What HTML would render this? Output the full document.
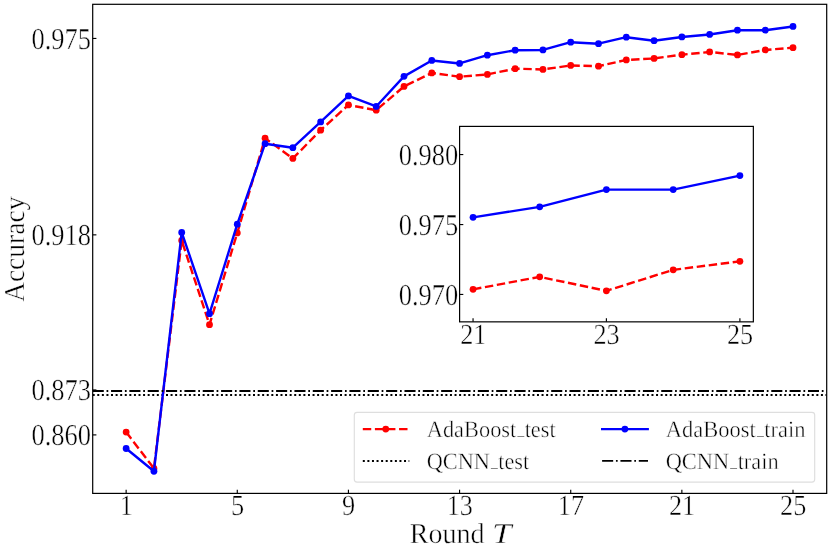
<!DOCTYPE html>
<html lang="en"><head><meta charset="utf-8"><title>Accuracy vs Round T</title>
<style>html,body{margin:0;padding:0;background:#fff;overflow:hidden}svg{display:block}</style></head>
<body>
<svg width="831" height="552" viewBox="0 0 831 552" font-family="'Liberation Serif', 'DejaVu Serif', serif" fill="#000">
<style>text{stroke:#fff;stroke-width:0.45px;text-rendering:geometricPrecision}</style>
<rect x="0" y="0" width="831" height="552" fill="#fff"/>
<defs><clipPath id="cm"><rect x="92.7" y="4.3" width="734.0" height="489.09999999999997"/></clipPath></defs>
<g clip-path="url(#cm)" fill="none" stroke-linejoin="round">
<polyline points="126.14,432.10 153.93,468.40 181.71,240.45 209.50,324.70 237.28,232.95 265.07,138.20 292.86,158.45 320.64,130.20 348.43,104.95 376.21,110.20 404.00,86.45 431.79,72.95 459.57,76.70 487.36,74.45 515.14,68.70 542.93,69.45 570.72,65.45 598.50,66.20 626.29,59.95 654.07,58.45 681.86,54.70 709.65,51.95 737.43,54.95 765.22,49.95 793.00,47.70" stroke="#ff0000" stroke-width="2.4" stroke-dasharray="8.44 3.65"/>
<circle cx="126.14" cy="432.10" r="3.4" fill="#ff0000"/>
<circle cx="153.93" cy="468.40" r="3.4" fill="#ff0000"/>
<circle cx="181.71" cy="240.45" r="3.4" fill="#ff0000"/>
<circle cx="209.50" cy="324.70" r="3.4" fill="#ff0000"/>
<circle cx="237.28" cy="232.95" r="3.4" fill="#ff0000"/>
<circle cx="265.07" cy="138.20" r="3.4" fill="#ff0000"/>
<circle cx="292.86" cy="158.45" r="3.4" fill="#ff0000"/>
<circle cx="320.64" cy="130.20" r="3.4" fill="#ff0000"/>
<circle cx="348.43" cy="104.95" r="3.4" fill="#ff0000"/>
<circle cx="376.21" cy="110.20" r="3.4" fill="#ff0000"/>
<circle cx="404.00" cy="86.45" r="3.4" fill="#ff0000"/>
<circle cx="431.79" cy="72.95" r="3.4" fill="#ff0000"/>
<circle cx="459.57" cy="76.70" r="3.4" fill="#ff0000"/>
<circle cx="487.36" cy="74.45" r="3.4" fill="#ff0000"/>
<circle cx="515.14" cy="68.70" r="3.4" fill="#ff0000"/>
<circle cx="542.93" cy="69.45" r="3.4" fill="#ff0000"/>
<circle cx="570.72" cy="65.45" r="3.4" fill="#ff0000"/>
<circle cx="598.50" cy="66.20" r="3.4" fill="#ff0000"/>
<circle cx="626.29" cy="59.95" r="3.4" fill="#ff0000"/>
<circle cx="654.07" cy="58.45" r="3.4" fill="#ff0000"/>
<circle cx="681.86" cy="54.70" r="3.4" fill="#ff0000"/>
<circle cx="709.65" cy="51.95" r="3.4" fill="#ff0000"/>
<circle cx="737.43" cy="54.95" r="3.4" fill="#ff0000"/>
<circle cx="765.22" cy="49.95" r="3.4" fill="#ff0000"/>
<circle cx="793.00" cy="47.70" r="3.4" fill="#ff0000"/>
<line x1="92.7" x2="826.7" y1="394.95" y2="394.95" stroke="#000" stroke-width="1.95" stroke-dasharray="2.0 2.58"/>
<polyline points="126.14,448.50 153.93,471.25 181.71,232.45 209.50,313.70 237.28,224.20 265.07,143.70 292.86,147.70 320.64,121.95 348.43,95.95 376.21,106.45 404.00,76.35 431.79,60.45 459.57,63.45 487.36,55.20 515.14,50.20 542.93,49.95 570.72,42.20 598.50,43.70 626.29,37.20 654.07,40.70 681.86,36.95 709.65,34.45 737.43,30.20 765.22,30.20 793.00,26.45" stroke="#0000ff" stroke-width="2.4"/>
<circle cx="126.14" cy="448.50" r="3.4" fill="#0000ff"/>
<circle cx="153.93" cy="471.25" r="3.4" fill="#0000ff"/>
<circle cx="181.71" cy="232.45" r="3.4" fill="#0000ff"/>
<circle cx="209.50" cy="313.70" r="3.4" fill="#0000ff"/>
<circle cx="237.28" cy="224.20" r="3.4" fill="#0000ff"/>
<circle cx="265.07" cy="143.70" r="3.4" fill="#0000ff"/>
<circle cx="292.86" cy="147.70" r="3.4" fill="#0000ff"/>
<circle cx="320.64" cy="121.95" r="3.4" fill="#0000ff"/>
<circle cx="348.43" cy="95.95" r="3.4" fill="#0000ff"/>
<circle cx="376.21" cy="106.45" r="3.4" fill="#0000ff"/>
<circle cx="404.00" cy="76.35" r="3.4" fill="#0000ff"/>
<circle cx="431.79" cy="60.45" r="3.4" fill="#0000ff"/>
<circle cx="459.57" cy="63.45" r="3.4" fill="#0000ff"/>
<circle cx="487.36" cy="55.20" r="3.4" fill="#0000ff"/>
<circle cx="515.14" cy="50.20" r="3.4" fill="#0000ff"/>
<circle cx="542.93" cy="49.95" r="3.4" fill="#0000ff"/>
<circle cx="570.72" cy="42.20" r="3.4" fill="#0000ff"/>
<circle cx="598.50" cy="43.70" r="3.4" fill="#0000ff"/>
<circle cx="626.29" cy="37.20" r="3.4" fill="#0000ff"/>
<circle cx="654.07" cy="40.70" r="3.4" fill="#0000ff"/>
<circle cx="681.86" cy="36.95" r="3.4" fill="#0000ff"/>
<circle cx="709.65" cy="34.45" r="3.4" fill="#0000ff"/>
<circle cx="737.43" cy="30.20" r="3.4" fill="#0000ff"/>
<circle cx="765.22" cy="30.20" r="3.4" fill="#0000ff"/>
<circle cx="793.00" cy="26.45" r="3.4" fill="#0000ff"/>
<line x1="92.7" x2="826.7" y1="391.0" y2="391.0" stroke="#000" stroke-width="1.8" stroke-dasharray="11.07 2.77 1.73 2.77"/>
</g>
<g stroke="#000" stroke-width="1.15">
<line x1="92.7" x2="96.4" y1="38.45" y2="38.45"/>
<line x1="92.7" x2="96.4" y1="234.85" y2="234.85"/>
<line x1="92.7" x2="96.4" y1="389.95" y2="389.95"/>
<line x1="92.7" x2="96.4" y1="434.9" y2="434.9"/>
<line x1="126.14" x2="126.14" y1="493.4" y2="489.7"/>
<line x1="237.28" x2="237.28" y1="493.4" y2="489.7"/>
<line x1="348.43" x2="348.43" y1="493.4" y2="489.7"/>
<line x1="459.57" x2="459.57" y1="493.4" y2="489.7"/>
<line x1="570.72" x2="570.72" y1="493.4" y2="489.7"/>
<line x1="681.86" x2="681.86" y1="493.4" y2="489.7"/>
<line x1="793.00" x2="793.00" y1="493.4" y2="489.7"/>
</g>
<rect x="92.7" y="4.3" width="734.0" height="489.09999999999997" fill="none" stroke="#000" stroke-width="1.2"/>
<g font-size="30.4">
<text x="91.0" y="48.75" text-anchor="end" textLength="59.6" lengthAdjust="spacingAndGlyphs">0.975</text>
<text x="91.0" y="245.15" text-anchor="end" textLength="59.6" lengthAdjust="spacingAndGlyphs">0.918</text>
<text x="91.0" y="400.25" text-anchor="end" textLength="59.6" lengthAdjust="spacingAndGlyphs">0.873</text>
<text x="91.0" y="445.20" text-anchor="end" textLength="59.6" lengthAdjust="spacingAndGlyphs">0.860</text>
<text x="126.34" y="515.1" font-size="29.2" text-anchor="middle" textLength="13.2" lengthAdjust="spacingAndGlyphs">1</text>
<text x="237.48" y="515.1" font-size="29.2" text-anchor="middle" textLength="13.2" lengthAdjust="spacingAndGlyphs">5</text>
<text x="348.63" y="515.1" font-size="29.2" text-anchor="middle" textLength="13.2" lengthAdjust="spacingAndGlyphs">9</text>
<text x="459.77" y="515.1" font-size="29.2" text-anchor="middle" textLength="26.2" lengthAdjust="spacingAndGlyphs">13</text>
<text x="570.92" y="515.1" font-size="29.2" text-anchor="middle" textLength="26.2" lengthAdjust="spacingAndGlyphs">17</text>
<text x="682.06" y="515.1" font-size="29.2" text-anchor="middle" textLength="26.2" lengthAdjust="spacingAndGlyphs">21</text>
<text x="793.20" y="515.1" font-size="29.2" text-anchor="middle" textLength="26.2" lengthAdjust="spacingAndGlyphs">25</text>
</g>
<text y="542.6" font-size="28.8"><tspan x="409.7" textLength="74.8" lengthAdjust="spacingAndGlyphs">Round</tspan> <tspan x="491.9" font-style="italic" textLength="19.5" lengthAdjust="spacingAndGlyphs">T</tspan></text>
<text transform="translate(23.5,249.3) rotate(-90)" text-anchor="middle" font-size="28.8" textLength="105.4" lengthAdjust="spacingAndGlyphs">Accuracy</text>
<rect x="459.6" y="126.4" width="293.75" height="195.45000000000002" fill="#fff"/>
<g fill="none" stroke-linejoin="round">
<polyline points="473.05,289.35 539.70,276.85 606.40,290.85 673.20,269.85 739.90,261.35" stroke="#ff0000" stroke-width="2.4" stroke-dasharray="8.44 3.65"/>
<circle cx="473.05" cy="289.35" r="3.4" fill="#ff0000"/>
<circle cx="539.70" cy="276.85" r="3.4" fill="#ff0000"/>
<circle cx="606.40" cy="290.85" r="3.4" fill="#ff0000"/>
<circle cx="673.20" cy="269.85" r="3.4" fill="#ff0000"/>
<circle cx="739.90" cy="261.35" r="3.4" fill="#ff0000"/>
<polyline points="473.05,217.35 539.70,206.85 606.40,189.60 673.20,189.60 739.90,175.60" stroke="#0000ff" stroke-width="2.4"/>
<circle cx="473.05" cy="217.35" r="3.4" fill="#0000ff"/>
<circle cx="539.70" cy="206.85" r="3.4" fill="#0000ff"/>
<circle cx="606.40" cy="189.60" r="3.4" fill="#0000ff"/>
<circle cx="673.20" cy="189.60" r="3.4" fill="#0000ff"/>
<circle cx="739.90" cy="175.60" r="3.4" fill="#0000ff"/>
</g>
<g stroke="#000" stroke-width="1.15">
<line x1="459.6" x2="463.3" y1="154.55" y2="154.55"/>
<line x1="459.6" x2="463.3" y1="224.55" y2="224.55"/>
<line x1="459.6" x2="463.3" y1="294.45" y2="294.45"/>
<line x1="473.05" x2="473.05" y1="321.85" y2="318.15000000000003"/>
<line x1="606.40" x2="606.40" y1="321.85" y2="318.15000000000003"/>
<line x1="739.90" x2="739.90" y1="321.85" y2="318.15000000000003"/>
</g>
<rect x="459.6" y="126.4" width="293.75" height="195.45000000000002" fill="none" stroke="#000" stroke-width="1.2"/>
<g font-size="30.4">
<text x="458.3" y="164.85" text-anchor="end" textLength="59.6" lengthAdjust="spacingAndGlyphs">0.980</text>
<text x="458.3" y="234.85" text-anchor="end" textLength="59.6" lengthAdjust="spacingAndGlyphs">0.975</text>
<text x="458.3" y="304.75" text-anchor="end" textLength="59.6" lengthAdjust="spacingAndGlyphs">0.970</text>
<text x="473.25" y="343.6" font-size="29.2" text-anchor="middle" textLength="26.2" lengthAdjust="spacingAndGlyphs">21</text>
<text x="606.60" y="343.6" font-size="29.2" text-anchor="middle" textLength="26.2" lengthAdjust="spacingAndGlyphs">23</text>
<text x="740.10" y="343.6" font-size="29.2" text-anchor="middle" textLength="26.2" lengthAdjust="spacingAndGlyphs">25</text>
</g>
<rect x="354.3" y="412.3" width="460.4" height="69.8" rx="2.8" ry="2.8" fill="#fff" fill-opacity="0.8" stroke="#dedede" stroke-width="1.15"/>
<line x1="362.8" x2="408.0" y1="429.1" y2="429.1" stroke="#ff0000" stroke-width="2.4" stroke-dasharray="8.44 3.65"/>
<circle cx="385.75" cy="429.1" r="3.4" fill="#ff0000"/>
<line x1="362.8" x2="409.3" y1="460.9" y2="460.9" stroke="#000" stroke-width="1.95" stroke-dasharray="2.0 2.58"/>
<line x1="601.0" x2="648.9" y1="429.1" y2="429.1" stroke="#0000ff" stroke-width="2.4"/>
<circle cx="624.9" cy="429.1" r="3.4" fill="#0000ff"/>
<line x1="602.1" x2="648.0" y1="460.8" y2="460.8" stroke="#000" stroke-width="1.8" stroke-dasharray="11.07 2.77 1.73 2.77"/>
<g font-size="23.4">
<text x="426.8" y="436.8" textLength="128.9" lengthAdjust="spacingAndGlyphs">AdaBoost<tspan dy="-1.7" dx="1.2" font-size="14" style="stroke:none" fill="#555">_</tspan><tspan dy="1.7" dx="0.6">test</tspan></text>
<text x="426.8" y="468.8" textLength="102.3" lengthAdjust="spacingAndGlyphs">QCNN<tspan dy="-1.7" dx="1.2" font-size="14" style="stroke:none" fill="#555">_</tspan><tspan dy="1.7" dx="0.6">test</tspan></text>
<text x="665.7" y="436.8" textLength="139.8" lengthAdjust="spacingAndGlyphs">AdaBoost<tspan dy="-1.7" dx="1.2" font-size="14" style="stroke:none" fill="#555">_</tspan><tspan dy="1.7" dx="0.6">train</tspan></text>
<text x="665.7" y="468.8" textLength="113.0" lengthAdjust="spacingAndGlyphs">QCNN<tspan dy="-1.7" dx="1.2" font-size="14" style="stroke:none" fill="#555">_</tspan><tspan dy="1.7" dx="0.6">train</tspan></text>
</g>
</svg>
</body></html>
